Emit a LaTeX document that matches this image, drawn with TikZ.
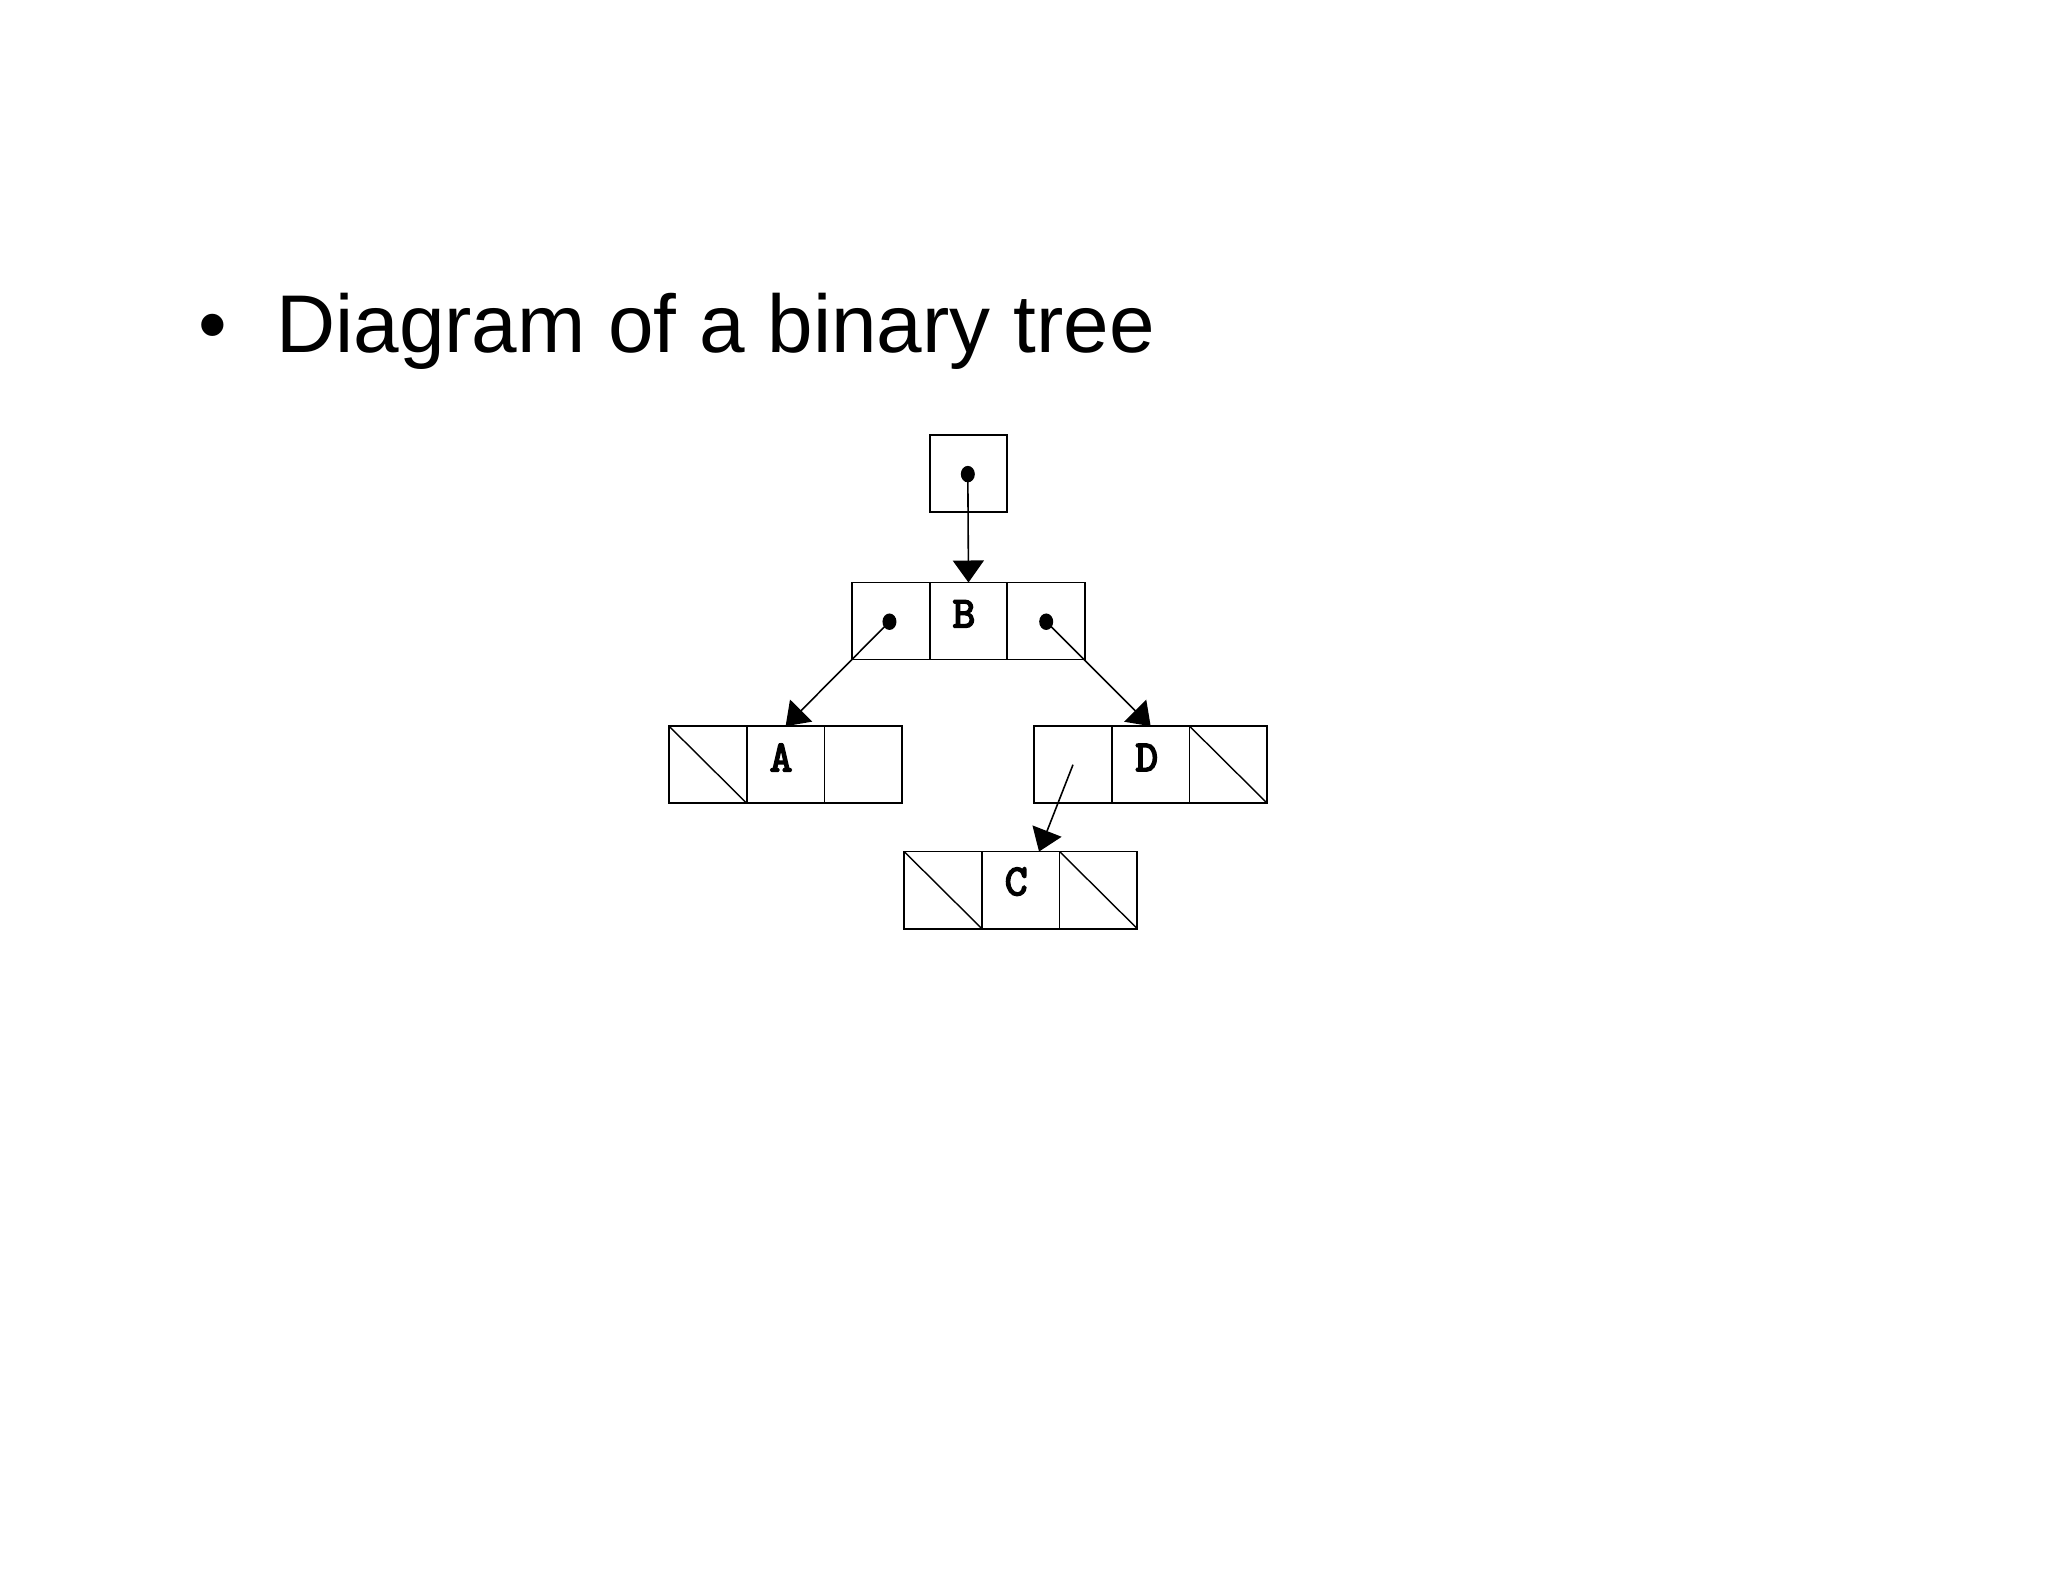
\documentclass[tikz,border=0pt]{standalone}
\usepackage{fontspec}
\setmainfont{Liberation Sans}
\newfontfamily\boxfont[FakeBold=4]{Latin Modern Mono}
\usetikzlibrary{arrows.meta,calc,shapes.geometric}
\tikzset{
  cell/.style={draw=black, line width=0.5pt, minimum width=0.777cm, minimum height=0.771cm, inner sep=0pt, outer sep=0pt},
  ptr/.style={line width=0.45pt, -{Triangle[width=0.31cm,length=0.22cm]}},
  nil/.style={line width=0.4pt},
  dotmark/.style={fill=black, draw=none, ellipse, minimum width=0.14cm, minimum height=0.165cm, inner sep=0pt},
  lbl/.style={font=\boxfont\fontsize{12.5}{14}\selectfont, inner sep=0pt},
  title/.style={font=\fontsize{23.3}{28}\selectfont, inner sep=0pt}
}
\begin{document}
\begin{tikzpicture}[x=0.013061cm, y=-0.013061cm]
\useasboundingbox (0,0) rectangle (1568,1211);
% title
\node[title, anchor=base] (bullet) at (163,270) {•};
\node[title, anchor=base west] (ttl) at (211,270) {Diagram of a binary tree};
% root pointer
\node[cell] (top) at (741.5,362.5) {};
% B row
\node[cell] (b1) at (682,475.5) {};
\node[cell] (b2) at (741.5,475.5) {};
\node[cell] (b3) at (801,475.5) {};
% A row
\node[cell] (a1) at (542,585.5) {};
\node[cell] (a2) at (601.5,585.5) {};
\node[cell] (a3) at (661,585.5) {};
% D row
\node[cell] (d1) at (821.5,585.5) {};
\node[cell] (d2) at (881,585.5) {};
\node[cell] (d3) at (940.5,585.5) {};
% C row
\node[cell] (c1) at (722,681.5) {};
\node[cell] (c2) at (781.5,681.5) {};
\node[cell] (c3) at (841,681.5) {};
% labels
\node[lbl] (lB) at (738,470) {B};
\node[lbl] (lA) at (598,580) {A};
\node[lbl] (lD) at (878,580) {D};
\node[lbl] (lC) at (778,675) {C};
% dots
\node[dotmark] (dtop) at (741,363) {};
\node[dotmark] (db1) at (681,476) {};
\node[dotmark] (db3) at (801,476) {};
% nil diagonals
\draw[nil] (a1.north west) -- (a1.south east);
\draw[nil] (d3.north west) -- (d3.south east);
\draw[nil] (c1.north west) -- (c1.south east);
\draw[nil] (c3.north west) -- (c3.south east);
% pointers
\coordinate (ctip) at ($(c2.north)+(14,0)$);
\draw[ptr] (dtop.center) -- (b2.north);
\draw[ptr] (db1.center) -- (a2.north);
\draw[ptr] (db3.center) -- (d2.north);
\draw[ptr] (d1.center) -- (ctip);
\end{tikzpicture}
\end{document}
